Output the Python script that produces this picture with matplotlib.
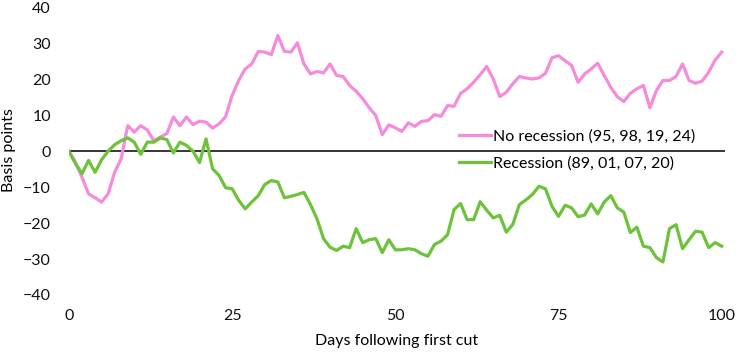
import numpy as np
import matplotlib.pyplot as plt

# ── Data (one point per day) ──────────────────────────────────────────────────
days = np.arange(0, 101)

no_recession = [
    0, -3, -7.2, -11.8, -12.9, -14.1, -11.8, -5.8, -2, 7.2,
    5.4, 7.2, 6, 3, 4, 5, 9.6, 7.2, 9.6, 7.5,
    8.4, 8.2, 6.5, 7.7, 9.7, 15.6, 19.8, 23, 24.4, 27.9,
    27.7, 27, 32.3, 27.9, 27.7, 30.3, 24.4, 21.6, 22.3, 21.9,
    24.4, 21.2, 20.9, 18.4, 16.8, 14.7, 12.2, 10, 4.7, 7.4,
    6.6, 5.6, 8, 7, 8.4, 8.6, 10.3, 9.8, 12.8, 12.6,
    16.2, 17.5, 19.3, 21.4, 23.7, 20.2, 15.3, 16.5, 18.9, 20.9,
    20.5, 20.2, 20.5, 21.8, 26.1, 26.7, 25.3, 24, 19.3, 21.6,
    23, 24.6, 21.2, 17.9, 15.3, 13.9, 16.2, 17.5, 18.4, 12.2,
    17, 19.8, 19.8, 20.9, 24.4, 19.8, 19, 19.6, 22.1, 25.5,
    27.7,
]

recession = [
    0, -3.4, -6.2, -2.5, -5.8, -2.3, 0.1, 1.9, 3, 3.8,
    2.6, -0.8, 2.6, 2.6, 3.8, 3.3, -0.4, 2.6, 1.7, 0.1,
    -3.1, 3.5, -4.8, -6.7, -10.1, -10.4, -13.6, -16, -14.1, -12.3,
    -9.2, -8.1, -8.5, -12.9, -12.5, -12, -11.4, -14.8, -18.8, -24.3,
    -26.7, -27.6, -26.4, -26.8, -21.5, -25.4, -24.6, -24.3, -28.2, -24.6,
    -27.4, -27.4, -27.1, -27.4, -28.5, -29.2, -25.9, -25, -23.2, -16.2,
    -14.5, -19, -19, -14, -16.4, -18.5, -17.8, -22.5, -20.3, -14.8,
    -13.5, -12, -9.7, -10.4, -15.3, -18.1, -15, -15.7, -18.2, -17.7,
    -14.6, -17.4, -14.1, -12.3, -15.7, -16.9, -22.6, -21.1, -26.4, -26.8,
    -29.6, -30.8, -21.5, -20.4, -27.1, -24.6, -22.2, -22.5, -26.8, -25.4,
    -26.4,
]

labels = ["No recession (95, 98, 19, 24)", "Recession (89, 01, 07, 20)"]
x_ticks = [0, 25, 50, 75, 100]
y_ticks = [-40, -30, -20, -10, 0, 10, 20, 30, 40]

PINK = "#F58BDA"
GREEN = "#6CC33A"

plt.rcParams["font.family"] = ["Lato", "DejaVu Sans"]

fig = plt.figure(figsize=(7.4, 3.52), dpi=100)
ax = fig.add_axes([0.0932, 0.162, 0.8865, 0.8153])

ax.axhline(0, color="black", linewidth=1.1, zorder=1)
ax.plot(days, no_recession, color=PINK, linewidth=2.3, label=labels[0], zorder=3)
ax.plot(days, recession, color=GREEN, linewidth=2.3, label=labels[1], zorder=3)

ax.set_xlim(0, 100.5)
ax.set_ylim(-40, 40)
ax.set_xticks(x_ticks)
ax.set_yticks(y_ticks)
ax.tick_params(length=0, labelsize=11.5, colors="#111111", pad=10)
ax.tick_params(axis="y", pad=13)
for s in ax.spines.values():
    s.set_visible(False)

ax.set_xlabel("Days following first cut", fontsize=11.5, va="center")
ax.xaxis.set_label_coords(0.5, -0.16)
ax.set_ylabel("Basis points", fontsize=11.5, va="center")
ax.yaxis.set_label_coords(-0.0915, 0.505)

ax.legend(loc="center left", bbox_to_anchor=(0.585, 0.505), frameon=False,
          fontsize=11.5, handlelength=2.0, handletextpad=0.15, labelspacing=0.75,
          borderaxespad=0)

fig.savefig("out.png", dpi=100)
